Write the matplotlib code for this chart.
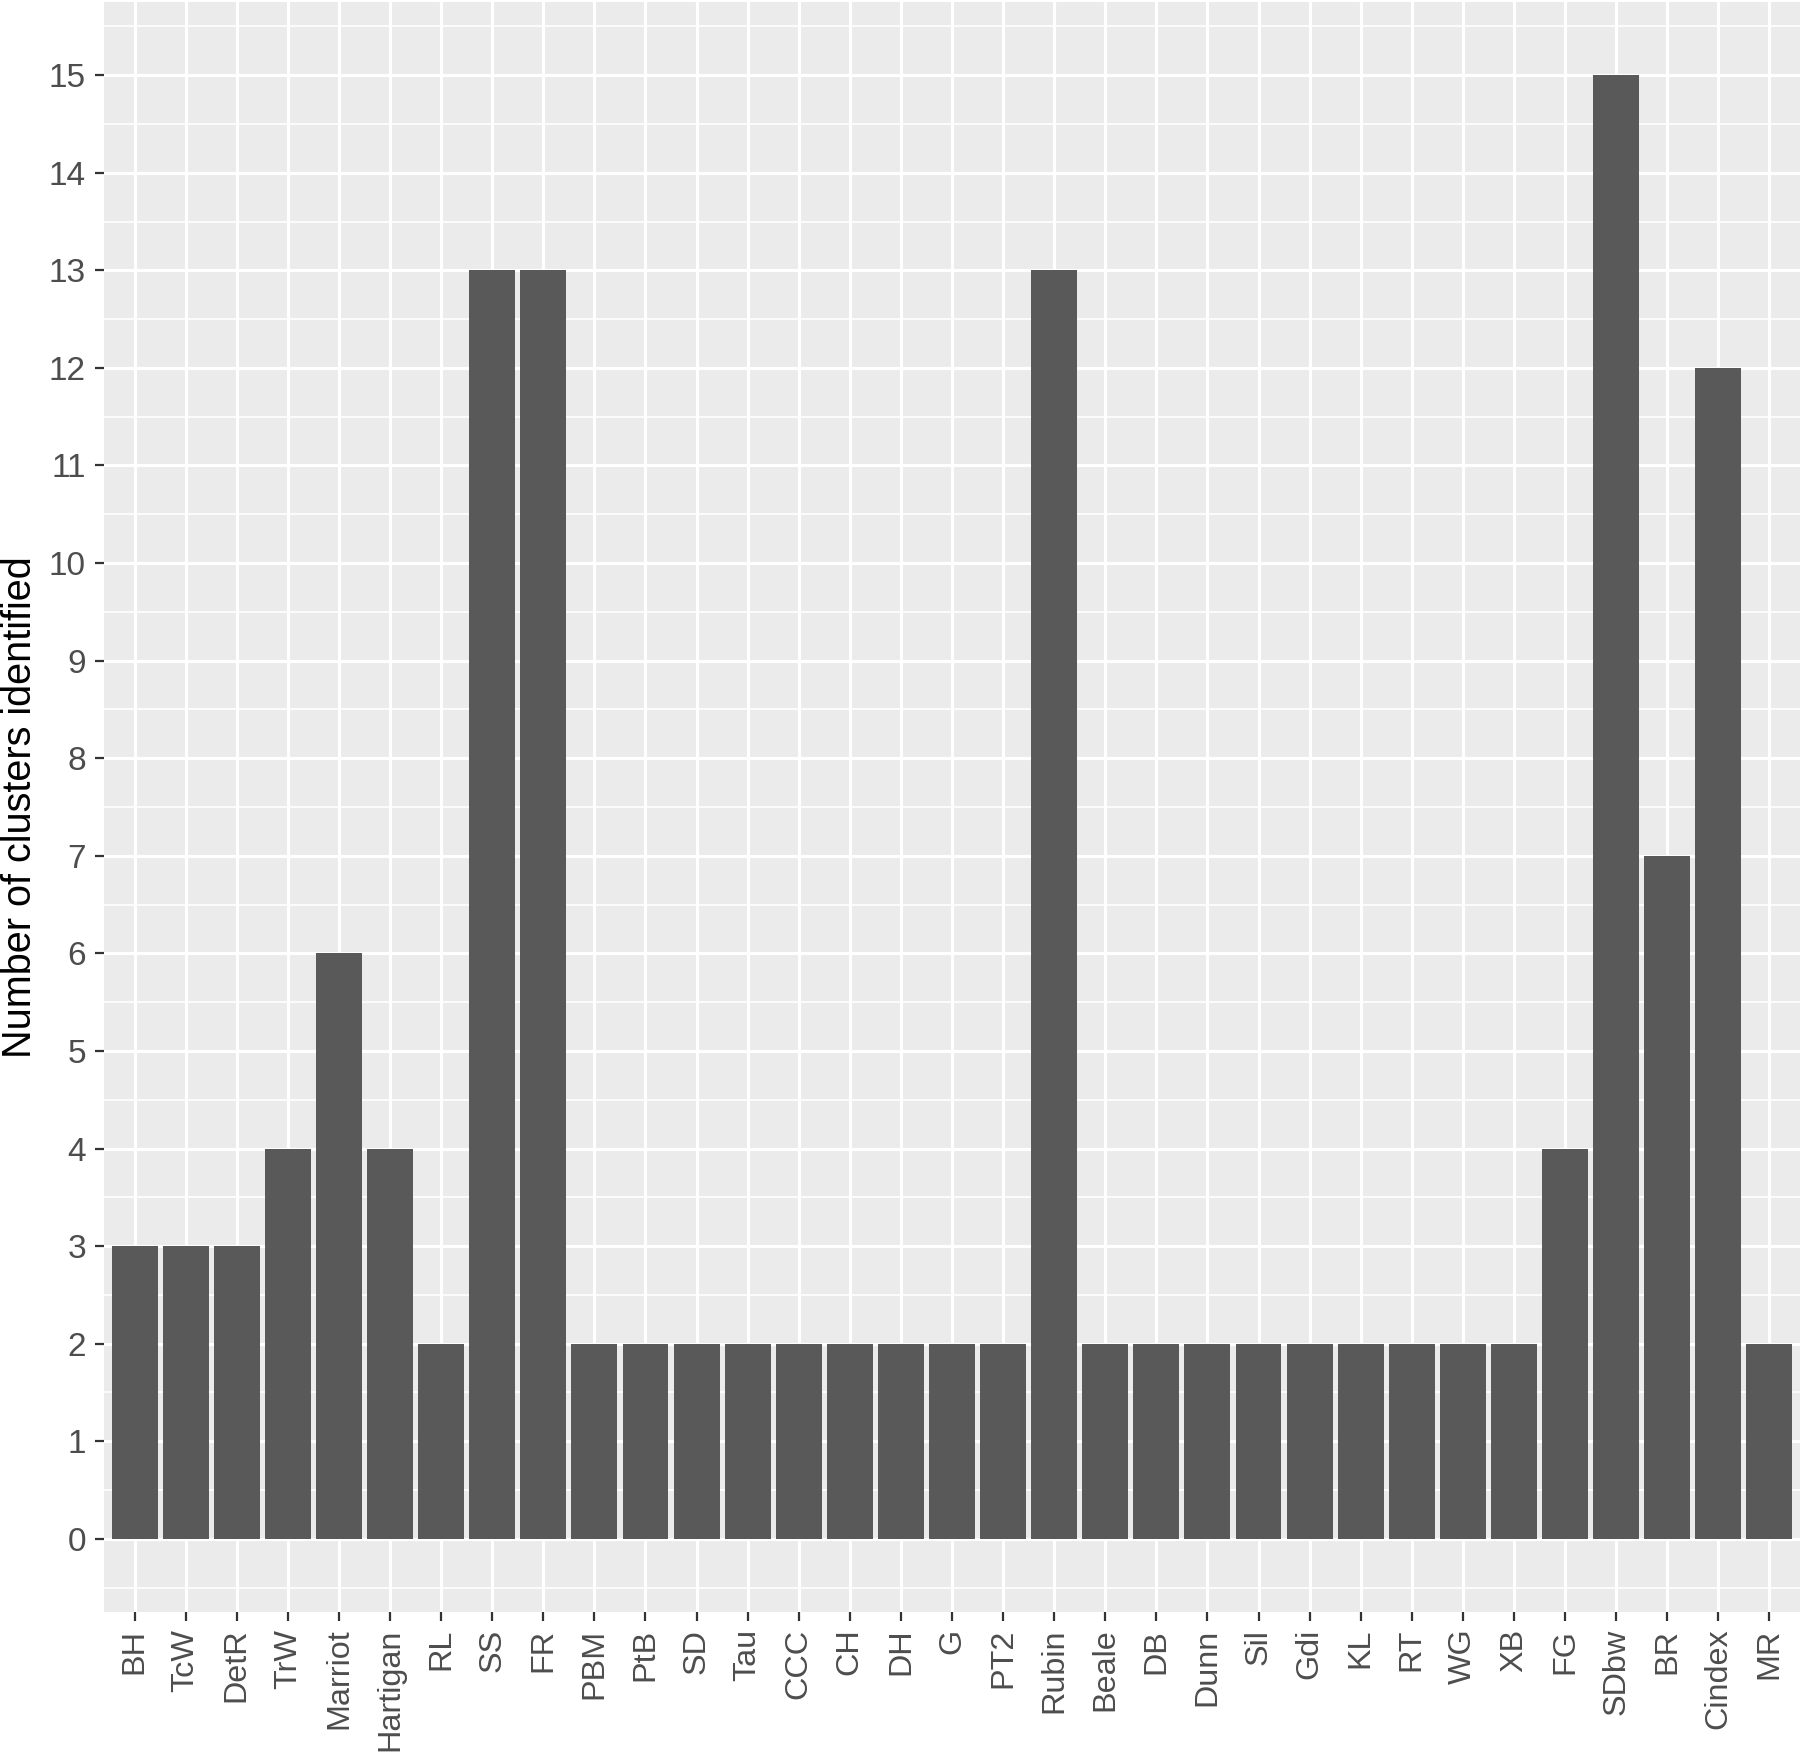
import matplotlib
matplotlib.use("Agg")
import matplotlib.pyplot as plt
import numpy as np

categories = ["BH", "TcW", "DetR", "TrW", "Marriot", "Hartigan", "RL", "SS", "FR",
              "PBM", "PtB", "SD", "Tau", "CCC", "CH", "DH", "G", "PT2", "Rubin",
              "Beale", "DB", "Dunn", "Sil", "Gdi", "KL", "RT", "WG", "XB", "FG",
              "SDbw", "BR", "Cindex", "MR"]
values = [3, 3, 3, 4, 6, 4, 2, 13, 13,
          2, 2, 2, 2, 2, 2, 2, 2, 2, 13,
          2, 2, 2, 2, 2, 2, 2, 2, 2, 4,
          15, 7, 12, 2]
y_ticks = list(range(0, 16))
y_label = "Number of clusters identified"

plt.rcParams['font.family'] = ['Liberation Sans', 'DejaVu Sans']

W, H = 1804, 1754
fig = plt.figure(figsize=(W / 100, H / 100), dpi=100)
left, right, top, bottom = 104, 1800, 2, 1612
ax = fig.add_axes([left / W, (H - bottom) / H, (right - left) / W, (bottom - top) / H])

x = np.arange(1, len(categories) + 1)
ax.set_facecolor('#EBEBEB')
ax.bar(x, values, width=0.9, color='#595959', zorder=3)

ax.set_xlim(0.4, len(categories) + 0.6)
ax.set_ylim(-0.75, 15.75)
ax.set_xticks(x)
ax.set_xticklabels(categories, rotation=90, va='top', ha='center')
ax.set_yticks(y_ticks)
ax.set_yticklabels([str(v) for v in y_ticks])
ax.set_yticks(np.arange(-0.5, 16, 1.0), minor=True)

ax.grid(which='major', axis='both', color='white', linewidth=2.3, zorder=1)
ax.grid(which='minor', axis='y', color='white', linewidth=1.2, zorder=1)
ax.set_axisbelow(True)

for s in ax.spines.values():
    s.set_visible(False)

ax.tick_params(axis='both', which='major', length=6.5, width=1.6, color='#333333',
               labelcolor='#4D4D4D', labelsize=24, pad=6.5)
ax.tick_params(axis='x', which='major', labelsize=23.3, pad=5.5)
ax.tick_params(axis='y', which='minor', length=0)

ax.set_ylabel(y_label, fontsize=28.5, color='black', labelpad=7)

fig.savefig("out.png", dpi=100, facecolor='white')
